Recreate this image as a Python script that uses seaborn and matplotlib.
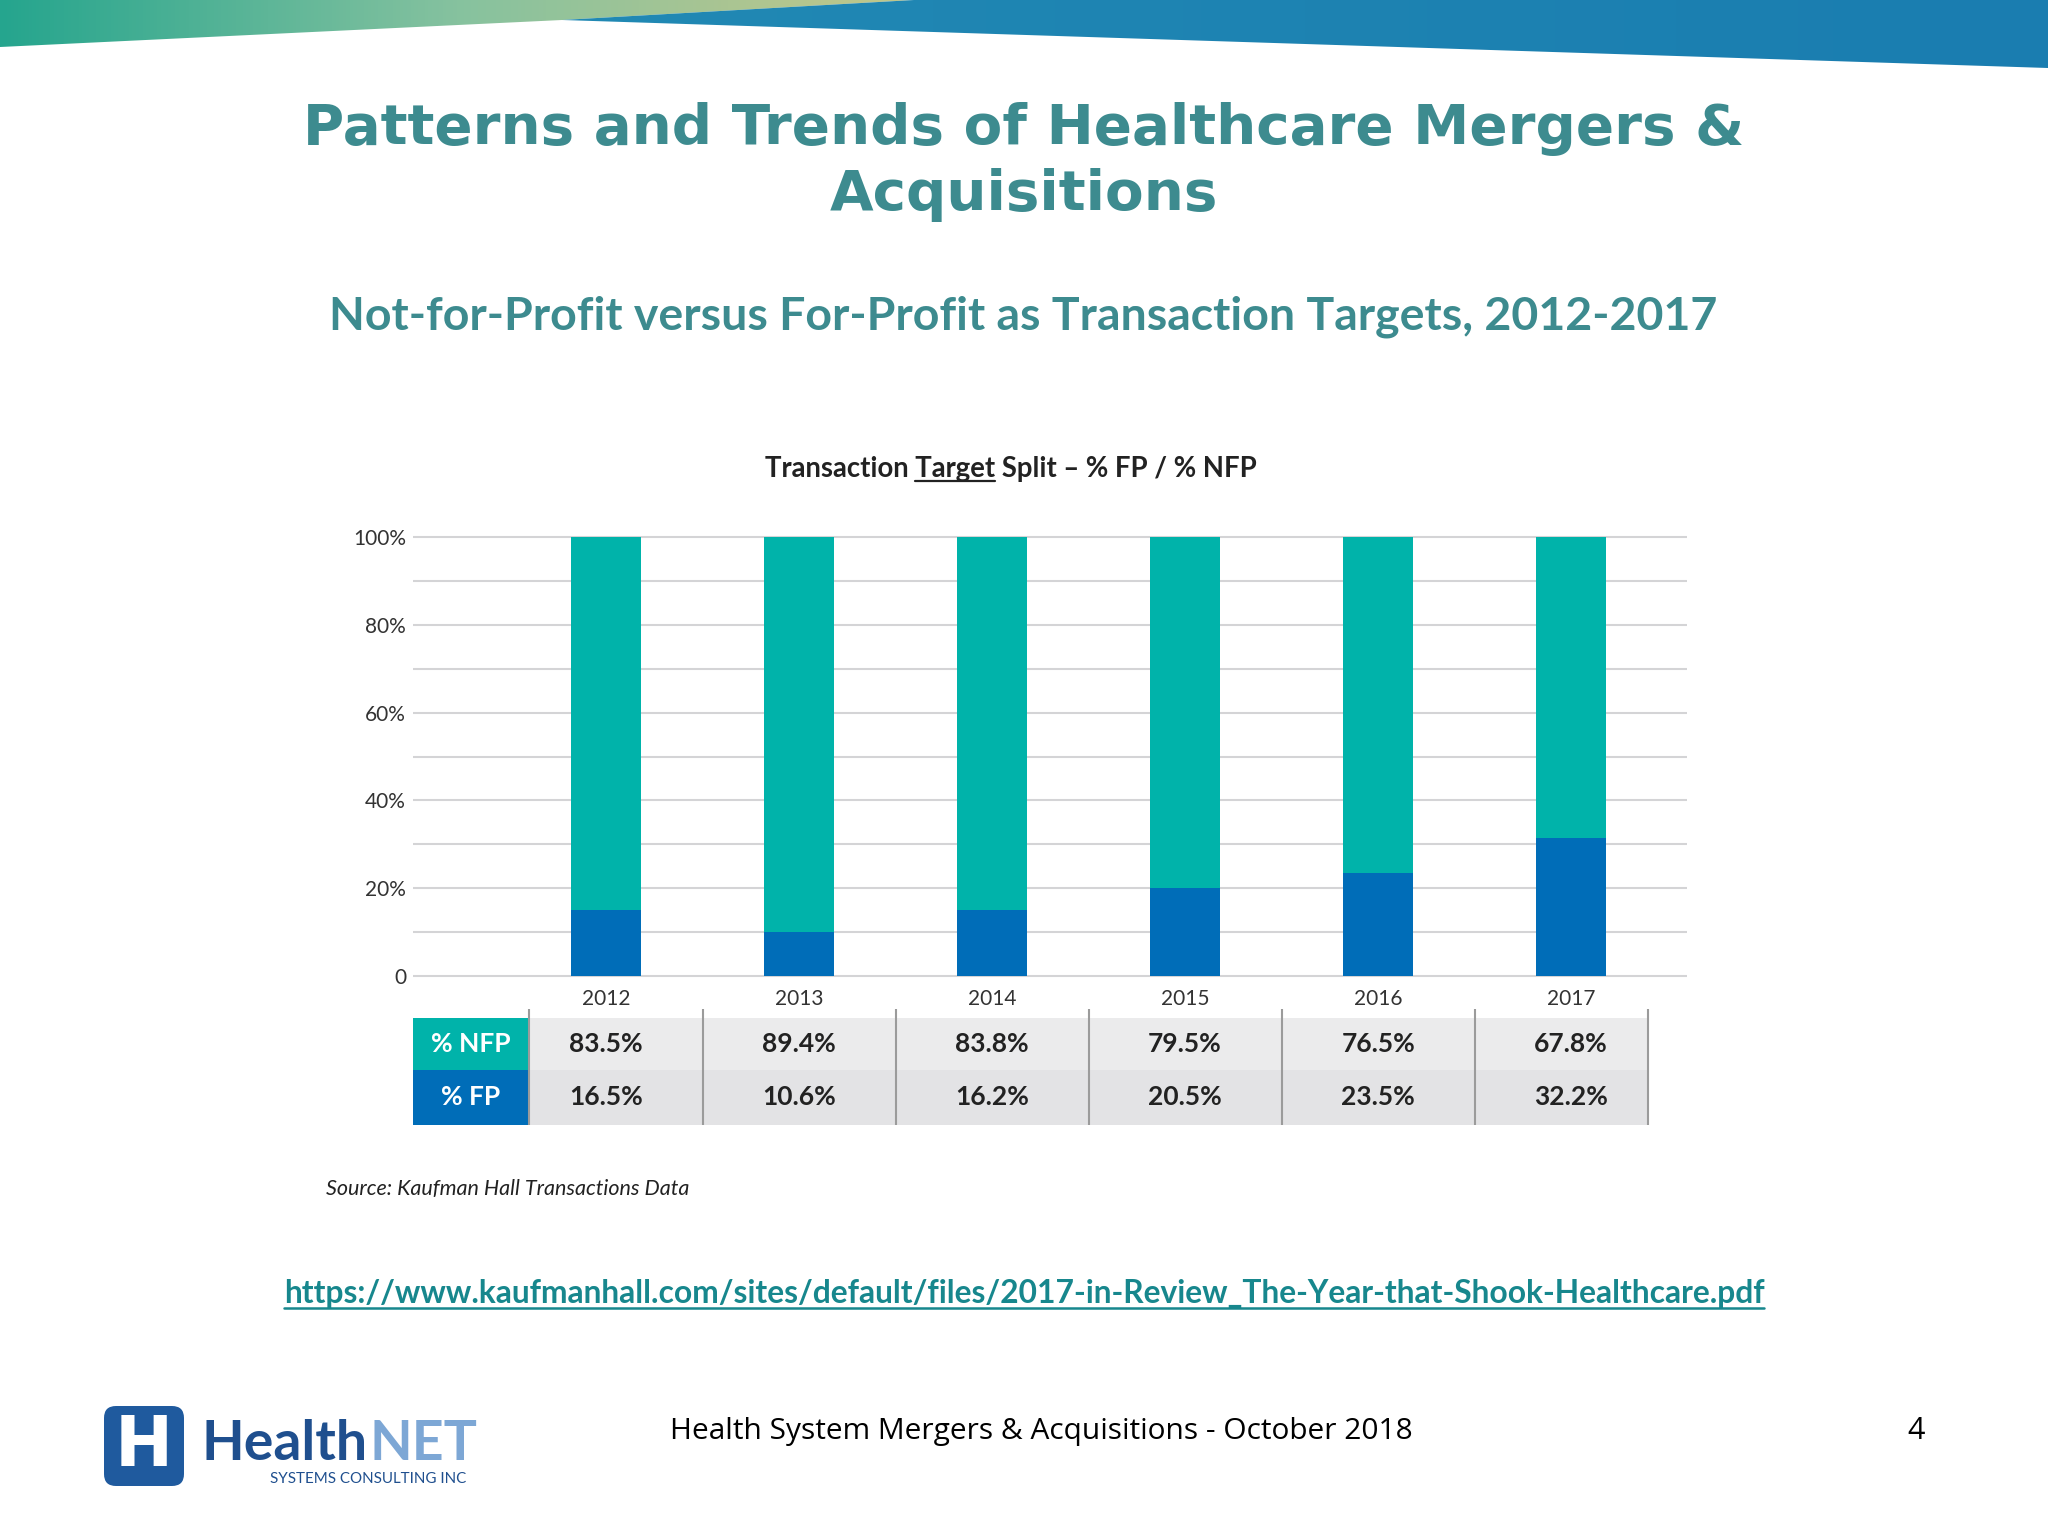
"""Slide: not-for-profit vs for-profit share of healthcare M&A targets."""

import matplotlib

matplotlib.use("Agg")
import matplotlib.pyplot as plt
from matplotlib.colors import LinearSegmentedColormap
from matplotlib.patches import FancyBboxPatch, Polygon, Rectangle
import numpy as np
import pandas as pd
import seaborn as sns


years = ["2012", "2013", "2014", "2015", "2016", "2017"]
# bar heights as drawn in the source chart
fp_bar = [15.0, 10.1, 15.0, 20.0, 23.4, 31.5]
nfp_bar = [85.0, 89.9, 85.0, 80.0, 76.6, 68.5]
# values printed in the table under the chart
nfp_label = ["83.5%", "89.4%", "83.8%", "79.5%", "76.5%", "67.8%"]
fp_label = ["16.5%", "10.6%", "16.2%", "20.5%", "23.5%", "32.2%"]
row_names = ["% NFP", "% FP"]
grid_ticks = [0, 10, 20, 30, 40, 50, 60, 70, 80, 90, 100]
grid_tick_labels = ["0", "", "20%", "", "40%", "", "60%", "", "80%", "", "100%"]

COLORS = {
    "teal": "#00B3AA",
    "blue": "#006DB8",
    "title": "#3D8B8F",
    "link": "#17878D",
    "ink": "#222222",
    "grid": "#D4D4D6",
    "row1": "#EBEBEC",
    "row2": "#E3E3E5",
    "divider": "#9B9B9B",
    "logo_dark": "#1F4F8E",
    "logo_light": "#7DA7D5",
}

W, H = 2048, 1536

sns.set_theme(style="white")
plt.rcParams["font.family"] = ["Lato", "DejaVu Sans"]

fig = plt.figure(figsize=(W / 100, H / 100), dpi=100)
fig.patch.set_facecolor("white")
renderer = fig.canvas.get_renderer()

# full-slide axes in pixel units for decoration and text
bg = fig.add_axes([0, 0, 1, 1], zorder=0)
bg.axis("off")
bg.set_xlim(0, W)
bg.set_ylim(H, 0)
bg.set_autoscale_on(False)


def fit_text(x, y, s, width, **kw):
    """Place text and scale its font so it spans `width` pixels."""
    t = bg.text(x, y, s, **kw)
    w = t.get_window_extent(renderer).width
    t.set_fontsize(t.get_fontsize() * width / w)
    return t


def text_width(s, **kw):
    t = fig.text(0, 0, s, **kw)
    w = t.get_window_extent(renderer).width
    t.remove()
    return w


# top banner
green = Polygon([(0, 0), (914, 0), (562, 20), (0, 47)], closed=True, fc="none", ec="none")
blue = Polygon([(914, 0), (W, 0), (W, 68), (562, 20)], closed=True, fc="none", ec="none")
bg.add_patch(green)
bg.add_patch(blue)
grad = np.linspace(0, 1, 256)[None, :]
im = bg.imshow(grad, extent=(0, 914, 47, 0), aspect="auto",
               cmap=LinearSegmentedColormap.from_list("g", ["#25A58E", "#86C29F", "#C2C78A"]))
im.set_clip_path(green)
im = bg.imshow(grad, extent=(562, W, 68, 0), aspect="auto",
               cmap=LinearSegmentedColormap.from_list("b", ["#2189B4", "#1A7DB0"]))
im.set_clip_path(blue)
bg.set_xlim(0, W)
bg.set_ylim(H, 0)

# titles
t1 = fit_text(1024, 129, "Patterns and Trends of Healthcare Mergers &", 1443,
              ha="center", va="center", fontsize=36, fontweight="bold",
              color=COLORS["title"], family="DejaVu Sans")
bg.text(1024, 195, "Acquisitions", ha="center", va="center", fontsize=t1.get_fontsize(),
        fontweight="bold", color=COLORS["title"], family="DejaVu Sans")
fit_text(1023, 317, "Not-for-Profit versus For-Profit as Transaction Targets, 2012-2017", 1386,
         ha="center", va="center", fontsize=30, fontweight="bold", color=COLORS["title"])

# chart title with underlined "Target"
ct = fit_text(1011, 469, "Transaction Target Split \u2013 % FP / % NFP", 494,
              ha="center", va="center", fontsize=18, fontweight="bold", color=COLORS["ink"])
props = dict(fontsize=ct.get_fontsize(), fontweight="bold")
bb = ct.get_window_extent(renderer)
end = bb.x0 + text_width("Transaction Target", **props)
start = end - text_width("Target", **props)
bg.plot([start, end], [H - bb.y0 - 1, H - bb.y0 - 1], color=COLORS["ink"], lw=1.6)

# chart
df = pd.DataFrame({"year": years, "fp": fp_bar, "nfp": nfp_bar})
df["total"] = df["fp"] + df["nfp"]

ax = fig.add_axes([413 / W, 1 - 980.4 / H, 1274 / W, 447.8 / H], zorder=2)
sns.barplot(data=df, x="year", y="total", color=COLORS["teal"], saturation=1,
            width=0.365, ax=ax, zorder=3, linewidth=0)
sns.barplot(data=df, x="year", y="fp", color=COLORS["blue"], saturation=1,
            width=0.365, ax=ax, zorder=3, linewidth=0)
ax.set_xlim(-1, 5.6)
ax.set_ylim(-1, 101)
ax.set_yticks(grid_ticks, labels=grid_tick_labels)
ax.set(xlabel="", ylabel="")
ax.grid(axis="y", color=COLORS["grid"], lw=1.5)
ax.set_axisbelow(True)
ax.patch.set_alpha(0)
sns.despine(ax=ax, left=True, bottom=True)
ax.tick_params(axis="y", length=0, pad=5, labelsize=15, labelcolor="#333333")
ax.tick_params(axis="x", length=0, pad=6, labelsize=15, labelcolor="#333333")

# data table under the bars (y in slide pixels)
tax = fig.add_axes([413 / W, 1 - 1135 / H, 1274 / W, 150 / H], zorder=2)
tax.set_xlim(ax.get_xlim())
tax.set_ylim(1135, 985)
tax.axis("off")
n = len(years)
edges = np.concatenate([[-0.4], np.arange(n - 1) + 0.5, [n - 1 + 0.4]])
rows = [(1018, 1070, COLORS["row1"], COLORS["teal"], nfp_label),
        (1070, 1125, COLORS["row2"], COLORS["blue"], fp_label)]
for (top, bottom, fill, head, labels), name in zip(rows, row_names):
    tax.add_patch(Rectangle((edges[0], top), edges[-1] - edges[0], bottom - top,
                            fc=fill, ec="none"))
    tax.add_patch(Rectangle((-1, top), 1 - 0.4, bottom - top, fc=head, ec="none"))
    mid = (top + bottom) / 2
    tax.text(-0.7, mid, name, ha="center", va="center", color="white",
             fontsize=19, fontweight="bold")
    for i, lab in enumerate(labels):
        tax.text(i, mid, lab, ha="center", va="center", color=COLORS["ink"],
                 fontsize=19, fontweight="bold")
tax.vlines(edges, 1009, 1125, color=COLORS["divider"], lw=1.5)

# source, link and footer
fit_text(326, 1189, "Source: Kaufman Hall Transactions Data", 363, ha="left", va="center",
         fontsize=13, style="italic", color=COLORS["ink"])
url = fit_text(1024, 1294,
               "https://www.kaufmanhall.com/sites/default/files/2017-in-Review_The-Year-that-Shook-Healthcare.pdf",
               1481, ha="center", va="center", fontsize=21, fontweight="bold",
               color=COLORS["link"])
ub = url.get_window_extent(renderer)
bg.plot([ub.x0, ub.x1], [H - ub.y0 - 1, H - ub.y0 - 1], color=COLORS["link"], lw=1.8)

fit_text(1041, 1431, "Health System Mergers & Acquisitions - October 2018", 742,
         ha="center", va="center", fontsize=22, color="black", family="Open Sans")
bg.text(1916, 1431, "4", ha="center", va="center", fontsize=22, color="black",
        family="Open Sans")

# logo
bg.add_patch(FancyBboxPatch((104, 1406), 80, 80, boxstyle="round,pad=0,rounding_size=12",
                            fc="#1F5A9E", ec="none"))
bg.text(144, 1447, "H", ha="center", va="center", fontsize=50, fontweight="bold",
        color="white", family="DejaVu Sans")
health = fit_text(202, 1444, "Health", 166, ha="left", va="center", fontsize=44,
                  fontweight="bold", color=COLORS["logo_dark"])
hb = health.get_window_extent(renderer)
bg.text(hb.x1 + 1, 1444, "NET", ha="left", va="center", fontsize=health.get_fontsize(),
        fontweight="bold", color=COLORS["logo_light"])
fit_text(270, 1479, "SYSTEMS CONSULTING INC", 195, ha="left", va="center", fontsize=12,
         color=COLORS["logo_dark"])

fig.savefig("out.png", dpi=100, facecolor="white")
